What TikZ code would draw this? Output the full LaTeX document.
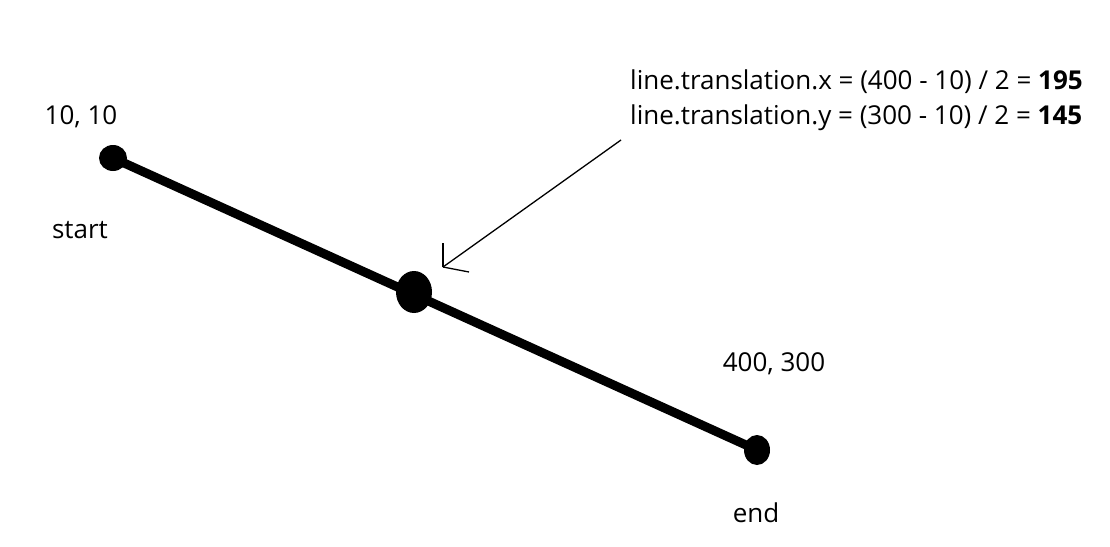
\documentclass[tikz,border=0pt]{standalone}
\usepackage{fontspec}
\setmainfont{Open Sans}
\begin{document}
\begin{tikzpicture}[x=1pt,y=-1pt,
  lbl/.style={inner sep=0pt, font=\fontsize{26}{30}\selectfont},
  thick line/.style={line width=9pt, line cap=round},
  pointer/.style={line width=1.3pt}]
\useasboundingbox[fill=white] (0,0) rectangle (1110,546);
% dots
\fill (113,158) coordinate (s) ellipse [x radius=14, y radius=13];
\fill (757,450) coordinate (e) ellipse [x radius=13, y radius=15];
\draw[thick line] (s) -- (e);
\fill (414,292) coordinate (m) ellipse [x radius=18, y radius=21];
% labels
\node[lbl] (p1) at (81,117) {10, 10};
\node[lbl] (st) at (80,230) {start};
\node[lbl] (p2) at (774,364) {400, 300};
\node[lbl] (en) at (756,513) {end};
\node[lbl, anchor=west] (ann1) at (630,82) {line.translation.x = (400 - 10) / 2 = \textbf{195}};
\node[lbl, anchor=west] (ann2) at (630,118) {line.translation.y = (300 - 10) / 2 = \textbf{145}};
% pointer
\coordinate (a0) at (621,140);
\coordinate (tip) at (443,267);
\draw[pointer] (a0) -- (tip);
\draw[pointer] (tip) -- ++(0,-24);
\draw[pointer] (tip) -- ++(26,5);
\end{tikzpicture}
\end{document}
